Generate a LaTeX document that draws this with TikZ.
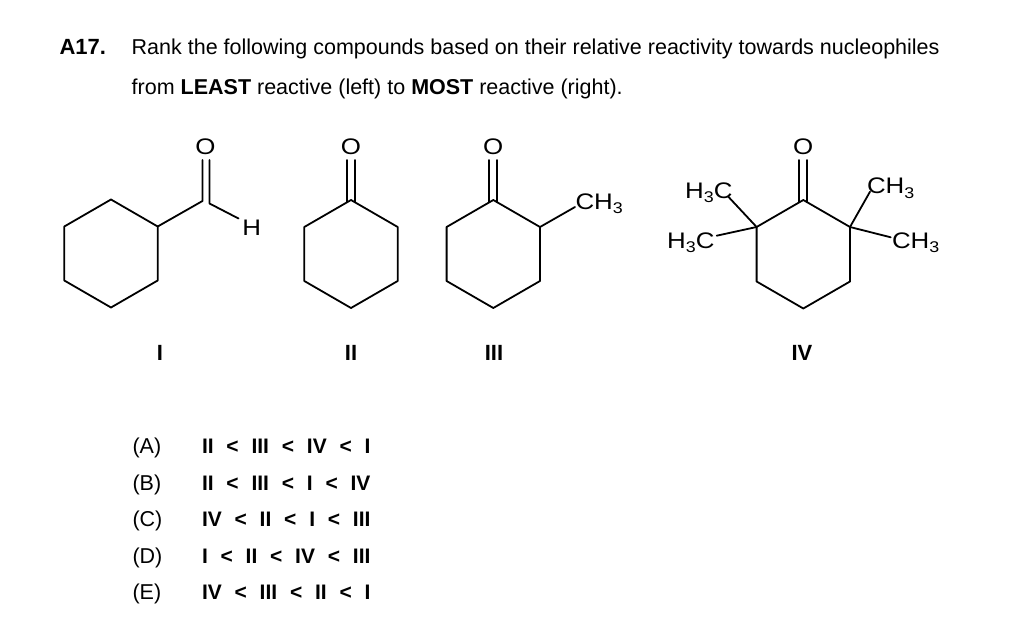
\documentclass[tikz,border=0pt]{standalone}
\usepackage{fontspec}
\setmainfont{Liberation Sans}
\newfontfamily\chemfont[FakeStretch=1.15]{Liberation Sans}
\newcommand{\chemsub}[1]{\raisebox{-0.34ex}{\fontsize{15.5}{15.5}\selectfont #1}}
\newcommand{\ltsep}{\hspace{12.8pt}<\hspace{12.8pt}}
\begin{document}
\begin{tikzpicture}[x=1pt,y=-1pt,
  txt/.style={inner sep=0pt,outer sep=0pt,font=\fontsize{21.5}{25}\selectfont},
  atom/.style={inner sep=0pt,outer sep=0pt,font=\chemfont\fontsize{22.5}{25}\selectfont},
  bond/.style={line width=1.8pt,line cap=round,line join=round},
  lbl/.style={txt,font=\fontsize{22}{25}\selectfont\bfseries},
  ans/.style={txt,font=\fontsize{21}{25}\selectfont\bfseries}]
\useasboundingbox (0,0) rectangle (1024,644);
\fill[white] (0,0) rectangle (1024,644);

% header
\node[lbl,anchor=base west] (qnum) at (59.5,55) {A17.};
\node[txt,anchor=base west] (line1) at (131.7,55) {Rank the following compounds based on their relative reactivity towards nucleophiles};
\node[txt,anchor=base west] (line2) at (131.7,94.5) {from \textbf{LEAST} reactive (left) to \textbf{MOST} reactive (right).};

% ---------- Molecule I ----------
\coordinate (a1) at (111,199.5);
\coordinate (a2) at (157.7,226.5);
\coordinate (a3) at (157.7,280.5);
\coordinate (a4) at (111,307.5);
\coordinate (a5) at (64.3,280.5);
\coordinate (a6) at (64.3,226.5);
\draw[bond] (a1)--(a2)--(a3)--(a4)--(a5)--(a6)--cycle;
\coordinate (aC) at (202.5,201);
\coordinate (aCr) at (209.5,203.5);
\coordinate (aOl) at (202.5,160);
\coordinate (aOr) at (209.5,160);
\coordinate (aHb) at (238.5,218.5);
\draw[bond] (a2)--(aC)--(aOl);
\draw[bond] (aOr)--(aCr)--(aHb);
\node[atom,anchor=base] (aO) at (205.5,155) {O};
\node[atom,anchor=base] (aH) at (251.7,235.5) {H};

% ---------- Molecule II ----------
\coordinate (b1) at (351,200);
\coordinate (b2) at (397.7,227);
\coordinate (b3) at (397.7,281);
\coordinate (b4) at (351,308);
\coordinate (b5) at (304.3,281);
\coordinate (b6) at (304.3,227);
\draw[bond] (b1)--(b2)--(b3)--(b4)--(b5)--(b6)--cycle;
\coordinate (bL1) at (347,202.3);
\coordinate (bL2) at (347,160);
\coordinate (bR1) at (355,202.3);
\coordinate (bR2) at (355,160);
\draw[bond] (bL1)--(bL2);
\draw[bond] (bR1)--(bR2);
\node[atom,anchor=base] (bO) at (351,155) {O};

% ---------- Molecule III ----------
\coordinate (c1) at (493.3,200);
\coordinate (c2) at (540,227);
\coordinate (c3) at (540,281);
\coordinate (c4) at (493.3,308);
\coordinate (c5) at (446.6,281);
\coordinate (c6) at (446.6,227);
\draw[bond] (c1)--(c2)--(c3)--(c4)--(c5)--(c6)--cycle;
\coordinate (cL1) at (489.3,202.3);
\coordinate (cL2) at (489.3,160);
\coordinate (cR1) at (497.3,202.3);
\coordinate (cR2) at (497.3,160);
\draw[bond] (cL1)--(cL2);
\draw[bond] (cR1)--(cR2);
\node[atom,anchor=base] (cO) at (493.3,155) {O};
\coordinate (cMe) at (575,207);
\draw[bond] (c2)--(cMe);
\node[atom,anchor=base west] (cCH) at (575.5,209.5) {CH\chemsub{3}};

% ---------- Molecule IV ----------
\coordinate (d1) at (803.3,200);
\coordinate (d2) at (850,227);
\coordinate (d3) at (850,281.5);
\coordinate (d4) at (803.3,308.5);
\coordinate (d5) at (756.6,281.5);
\coordinate (d6) at (756.6,227);
\draw[bond] (d1)--(d2)--(d3)--(d4)--(d5)--(d6)--cycle;
\coordinate (dL1) at (799.3,202.3);
\coordinate (dL2) at (799.3,160);
\coordinate (dR1) at (807.3,202.3);
\coordinate (dR2) at (807.3,160);
\draw[bond] (dL1)--(dL2);
\draw[bond] (dR1)--(dR2);
\node[atom,anchor=base] (dO) at (803.3,155) {O};
\coordinate (dUL) at (728.3,196.7);
\coordinate (dLL) at (716.7,235.7);
\coordinate (dUR) at (870,191.7);
\coordinate (dLR) at (890.7,237.3);
\draw[bond] (d6)--(dUL);
\draw[bond] (d6)--(dLL);
\draw[bond] (d2)--(dUR);
\draw[bond] (d2)--(dLR);
\node[atom,anchor=base east] (dT1) at (732.5,198.5) {H\chemsub{3}C};
\node[atom,anchor=base east] (dT2) at (714.5,248) {H\chemsub{3}C};
\node[atom,anchor=base west] (dT3) at (867,194) {CH\chemsub{3}};
\node[atom,anchor=base west] (dT4) at (892,248.5) {CH\chemsub{3}};

% ---------- compound labels ----------
\node[lbl,anchor=base] (L1) at (160,360.5) {I};
\node[lbl,anchor=base] (L2) at (351,360.5) {II};
\node[lbl,anchor=base] (L3) at (494,360.5) {III};
\node[lbl,anchor=base] (L4) at (802,360.5) {IV};

% ---------- answer choices ----------
\node[txt,anchor=base west] (oA) at (132.5,453.5) {(A)};
\node[txt,anchor=base west] (oB) at (132.5,490) {(B)};
\node[txt,anchor=base west] (oC) at (132.5,526.5) {(C)};
\node[txt,anchor=base west] (oD) at (132.5,563) {(D)};
\node[txt,anchor=base west] (oE) at (132.5,599.5) {(E)};
\node[ans,anchor=base west] (aA) at (202,453.5) {II\ltsep III\ltsep IV\ltsep I};
\node[ans,anchor=base west] (aB) at (202,490) {II\ltsep III\ltsep I\ltsep IV};
\node[ans,anchor=base west] (aC) at (202,526.5) {IV\ltsep II\ltsep I\ltsep III};
\node[ans,anchor=base west] (aD) at (202,563) {I\ltsep II\ltsep IV\ltsep III};
\node[ans,anchor=base west] (aE) at (202,599.5) {IV\ltsep III\ltsep II\ltsep I};
\end{tikzpicture}
\end{document}
